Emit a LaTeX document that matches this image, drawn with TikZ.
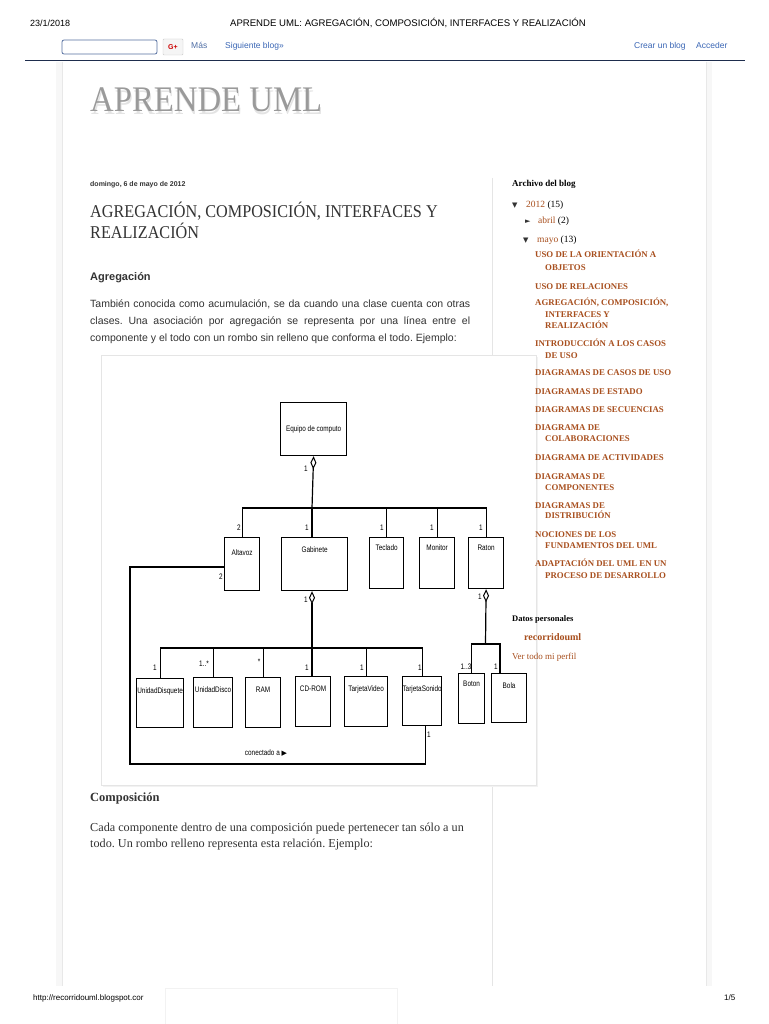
\documentclass[tikz,border=0pt]{standalone}
\usepackage{fontspec}
\setmainfont{Liberation Serif}
\newfontfamily\sansf{Liberation Sans}
\newfontfamily\narrowf[FakeStretch=0.8]{Liberation Sans}
\newfontfamily\titlef[FakeStretch=0.91]{Liberation Serif}
\newfontfamily\posttf[FakeStretch=0.9]{Liberation Serif}
\newfontfamily\symf{DejaVu Sans}
\usetikzlibrary{arrows.meta,calc}
\definecolor{txt}{HTML}{333333}
\definecolor{brn}{HTML}{A84F1E}
\definecolor{lnk}{HTML}{3A66B5}
\definecolor{ttl}{HTML}{9A9A9A}
\definecolor{navy}{HTML}{1E2D4D}
\tikzset{
  cls/.style={draw=black, line width=1.2pt, inner sep=0pt, anchor=north west},
  lbl/.style={font=\narrowf\fontsize{8}{8}\selectfont, inner sep=0pt},
  mult/.style={font=\narrowf\fontsize{8}{8}\selectfont, inner sep=0pt},
  conn/.style={draw=black, line width=1.2pt},
  agg/.style={conn, {Diamond[open, length=13pt, width=6pt, line width=1pt]}-},
  side/.style={anchor=base west, inner sep=0pt, text=brn, font=\bfseries\fontsize{8.8}{8.8}\selectfont},
  bw/.style={anchor=base west, inner sep=0pt},
}
\begin{document}
\frenchspacing
\begin{tikzpicture}[x=1pt,y=-1pt]
\useasboundingbox (0,0) rectangle (768,1024);
\fill[white] (0,0) rectangle (768,1024);

% page container shadows
\fill[gray!6] (56,62) rectangle (62,986);
\fill[gray!6] (706,62) rectangle (712,986);
\draw[gray!18] (62,62) -- (62,986);
\draw[gray!18] (706,62) -- (706,986);
\draw[gray!20] (492,178) -- (492,986);

% header line
\node[bw, font=\sansf\fontsize{9}{9}\selectfont] (hdate) at (30,27) {23/1/2018};
\node[anchor=base, inner sep=0pt, font=\sansf\fontsize{9.6}{9.6}\selectfont] (htitle) at (408,27) {APRENDE UML: AGREGACIÓN, COMPOSICIÓN, INTERFACES Y REALIZACIÓN};

% navbar
\draw[rounded corners=2pt, draw=lnk!60!gray, line width=0.8pt, fill=white] (62,40) rectangle (157,54);
\node[draw=gray!40, fill=gray!8, rounded corners=1pt, minimum width=20pt, minimum height=16pt, inner sep=0pt, text=red!80!black, font=\sansf\bfseries\fontsize{7}{7}\selectfont] (gplus) at (173,47) {G+};
\node[bw, text=lnk!70!gray, font=\sansf\fontsize{8.5}{8.5}\selectfont] (mas) at (191,49) {Más};
\node[bw, text=lnk, font=\sansf\fontsize{8.5}{8.5}\selectfont] (sig) at (225,49) {Siguiente blog»};
\node[bw, text=lnk, font=\sansf\fontsize{8.5}{8.5}\selectfont] (crear) at (634,49) {Crear un blog};
\node[bw, text=lnk, font=\sansf\fontsize{8.5}{8.5}\selectfont] (acc) at (696,49) {Acceder};
\draw[navy, line width=1pt] (25,61) -- (745,61);

% blog title
\node[bw, text=gray!22, font=\titlef\fontsize{36}{36}\selectfont] at (91,115) {APRENDE UML};
\node[bw, text=ttl, font=\titlef\fontsize{36}{36}\selectfont] (blogt) at (90,112) {APRENDE UML};

% post
\node[bw, text=txt, font=\sansf\bfseries\fontsize{7}{7}\selectfont] (pdate) at (90,186.5) {domingo, 6 de mayo de 2012};
\node[bw, text=txt, font=\posttf\fontsize{18}{18}\selectfont] (pt1) at (90,218) {AGREGACIÓN, COMPOSICIÓN, INTERFACES Y};
\node[bw, text=txt, font=\posttf\fontsize{18}{18}\selectfont] (pt2) at (90,238) {REALIZACIÓN};
\node[bw, text=txt, font=\sansf\bfseries\fontsize{11}{11}\selectfont] (h1) at (90,280) {Agregación};
\node[anchor=base west, inner sep=0pt, text width=380pt, align=justify, text=txt, font=\sansf\fontsize{10.5}{17}\selectfont] (p1) at (90,307)
{También conocida como acumulación, se da cuando una clase cuenta con otras\linebreak clases. Una asociación por agregación se representa por una línea entre el\linebreak componente y el todo con un rombo sin relleno que conforma el todo. Ejemplo:};

% diagram frame
\fill[gray!10] (103,357) rectangle (538,787);
\draw[gray!20, fill=white] (101,355) rectangle (536,785);

% classes
\node[cls, minimum width=66pt, minimum height=53pt, lbl] (eq) at (280,402) {Equipo de computo};
\node[cls, minimum width=35pt, minimum height=53pt, label={[lbl,anchor=center,yshift=-16pt]north:Altavoz}] (alt) at (224,537) {};
\node[cls, minimum width=66pt, minimum height=53pt, label={[lbl,anchor=center,yshift=-13pt]north:Gabinete}] (gab) at (281,537) {};
\node[cls, minimum width=34pt, minimum height=51pt, label={[lbl,anchor=center,yshift=-11pt]north:Teclado}] (tec) at (369,537) {};
\node[cls, minimum width=35pt, minimum height=51pt, label={[lbl,anchor=center,yshift=-11pt]north:Monitor}] (mon) at (419,537) {};
\node[cls, minimum width=35pt, minimum height=51pt, label={[lbl,anchor=center,yshift=-11pt]north:Raton}] (rat) at (468,537) {};

\node[cls, minimum width=47pt, minimum height=49pt, label={[lbl,anchor=center,yshift=-13pt]north:UnidadDisquete}] (udq) at (136,678) {};
\node[cls, minimum width=39pt, minimum height=50pt, label={[lbl,anchor=center,yshift=-13pt]north:UnidadDisco}] (udc) at (193,677) {};
\node[cls, minimum width=35pt, minimum height=50pt, label={[lbl,anchor=center,yshift=-13pt]north:RAM}] (ram) at (245,677) {};
\node[cls, minimum width=35pt, minimum height=50pt, label={[lbl,anchor=center,yshift=-13pt]north:CD-ROM}] (cdr) at (295,676) {};
\node[cls, minimum width=43pt, minimum height=50pt, label={[lbl,anchor=center,yshift=-13pt]north:TarjetaVideo}] (tvi) at (344,676) {};
\node[cls, minimum width=39pt, minimum height=49pt, label={[lbl,anchor=center,yshift=-13pt]north:TarjetaSonido}] (tso) at (402,676) {};
\node[cls, minimum width=26pt, minimum height=50pt, label={[lbl,anchor=center,yshift=-11pt]north:Boton}] (bot) at (458,673) {};
\node[cls, minimum width=35pt, minimum height=49pt, label={[lbl,anchor=center,yshift=-13pt]north:Bola}] (bol) at (491,673) {};

% level 1 aggregation
\coordinate (b1) at (312,508);
\draw[agg] (eq.south) -- (b1);
\draw[conn] (alt.north) |- (b1) -| (rat.north);
\draw[conn] (b1) -- (gab.north -| b1);
\draw[conn] (tec.north) -- (tec.north |- b1);
\draw[conn] (mon.north) -- (mon.north |- b1);

% level 2 aggregation (gabinete)
\coordinate (b2) at (312,648);
\draw[agg] (gab.south -| b2) -- (b2);
\draw[conn] (udq.north) |- (b2) -| (tso.north);
\draw[conn] (udc.north) -- (udc.north |- b2);
\draw[conn] (ram.north) -- (ram.north |- b2);
\draw[conn] (cdr.north -| b2) -- (b2);
\draw[conn] (tvi.north) -- (tvi.north |- b2);

% raton aggregation
\coordinate (b3) at (485.5,644);
\draw[agg] (rat.south) -- (b3);
\coordinate (bolin) at (500,673);
\draw[conn] (bot.north) |- (b3) -| (bolin);

% conectado a
\coordinate (cc) at (130,764);
\draw[conn] ([yshift=-30pt]alt.north west) -| (cc) -| ([xshift=3pt]tso.south);
\node[lbl] (conn) at (266,753) {conectado a {\symf\fontsize{7}{7}\selectfont ▶}};

% multiplicities
\node[mult] at (306,469) {1};
\node[mult] at (239,528) {2};
\node[mult] at (307,528) {1};
\node[mult] at (382,528) {1};
\node[mult] at (432,528) {1};
\node[mult] at (481,528) {1};
\node[mult] at (221,577) {2};
\node[mult] at (306,600) {1};
\node[mult] at (480,597) {1};
\node[mult] at (155,668) {1};
\node[mult] at (204,664) {1..*};
\node[mult] at (259,662) {*};
\node[mult] at (307,668) {1};
\node[mult] at (362,668) {1};
\node[mult] at (420,668) {1};
\node[mult] at (466,667) {1..3};
\node[mult] at (496,667) {1};
\node[mult] at (429,735) {1};

% composicion
\node[bw, text=txt, font=\bfseries\fontsize{12.5}{12.5}\selectfont] (h2) at (90,801) {Composición};
\node[bw, text=txt, font=\fontsize{12.2}{12.2}\selectfont] (c1) at (90,831) {Cada componente dentro de una composición puede pertenecer tan sólo a un};
\node[bw, text=txt, font=\fontsize{12.2}{12.2}\selectfont] (c2) at (90,847) {todo. Un rombo relleno representa esta relación. Ejemplo:};

% sidebar
\node[bw, text=black, font=\bfseries\fontsize{9}{9}\selectfont] (arch) at (512,187) {Archivo del blog};
\node[bw, text=txt, font=\symf\fontsize{7}{7}\selectfont] at (512,208) {▼};
\node[bw, font=\fontsize{9.5}{9.5}\selectfont] (y2012) at (526,208) {\textcolor{brn}{2012} (15)};
\node[bw, text=txt, font=\symf\fontsize{7}{7}\selectfont] at (525,224) {►};
\node[bw, font=\fontsize{9.5}{9.5}\selectfont] (abril) at (538,224) {\textcolor{brn}{abril} (2)};
\node[bw, text=txt, font=\symf\fontsize{7}{7}\selectfont] at (523,243) {▼};
\node[bw, font=\fontsize{9.5}{9.5}\selectfont] (mayo) at (537,243) {\textcolor{brn}{mayo} (13)};

\node[side] at (535,258) {USO DE LA ORIENTACIÓN A};
\node[side] at (545,270) {OBJETOS};
\node[side] at (535,289) {USO DE RELACIONES};
\node[side] at (535,305) {AGREGACIÓN, COMPOSICIÓN,};
\node[side] at (545,317) {INTERFACES Y};
\node[side] at (545,328) {REALIZACIÓN};
\node[side] at (535,346) {INTRODUCCIÓN A LOS CASOS};
\node[side] at (545,358) {DE USO};
\node[side] at (535,375) {DIAGRAMAS DE CASOS DE USO};
\node[side] at (535,394) {DIAGRAMAS DE ESTADO};
\node[side] at (535,412) {DIAGRAMAS DE SECUENCIAS};
\node[side] at (535,430) {DIAGRAMA DE};
\node[side] at (545,441) {COLABORACIONES};
\node[side] at (535,460) {DIAGRAMA DE ACTIVIDADES};
\node[side] at (535,479) {DIAGRAMAS DE};
\node[side] at (545,490) {COMPONENTES};
\node[side] at (535,508) {DIAGRAMAS DE};
\node[side] at (545,518) {DISTRIBUCIÓN};
\node[side] at (535,537) {NOCIONES DE LOS};
\node[side] at (545,548) {FUNDAMENTOS DEL UML};
\node[side] at (535,566) {ADAPTACIÓN DEL UML EN UN};
\node[side] at (545,578) {PROCESO DE DESARROLLO};

\node[bw, text=black, font=\bfseries\fontsize{8.5}{8.5}\selectfont] (datos) at (512,621) {Datos personales};
\node[bw, text=brn, font=\bfseries\fontsize{10}{10}\selectfont] (rec) at (524,640) {recorridouml};
\node[bw, text=brn, font=\fontsize{9}{9}\selectfont] (ver) at (512,659) {Ver todo mi perfil};

% footer
\draw[gray!10, fill=white] (165,988) rectangle (397,1030);
\node[bw, font=\sansf\fontsize{8}{8}\selectfont] (url) at (33,1000) {http://recorridouml.blogspot.cor};
\node[bw, font=\sansf\fontsize{8}{8}\selectfont] (pg) at (724,1000) {1/5};
\end{tikzpicture}
\end{document}
